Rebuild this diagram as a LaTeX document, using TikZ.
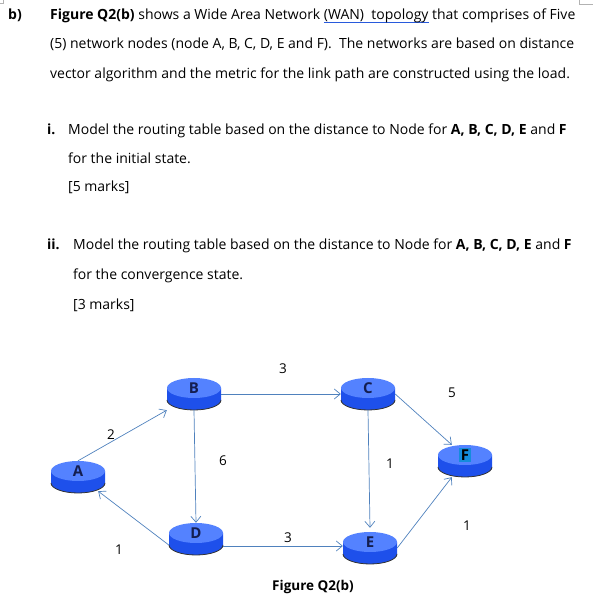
\documentclass[tikz,border=0pt]{standalone}
\usepackage{fontspec}
\setmainfont{Open Sans}
\usetikzlibrary{arrows.meta,calc}
\definecolor{edgec}{RGB}{79,129,189}
\definecolor{topc}{RGB}{84,130,255}
\definecolor{sidec}{RGB}{30,80,235}
\definecolor{lblc}{RGB}{20,30,80}
\definecolor{fbox}{RGB}{20,140,220}
\definecolor{ulblue}{RGB}{40,90,220}
\newcommand\blueul[1]{{\setbox0\hbox{#1}\rlap{\textcolor{ulblue}{\rule[-3pt]{\wd0}{0.7pt}}}\box0}}
\newcommand\netnode[4]{%
  \node[minimum width=54pt,minimum height=32pt,inner sep=0] (#1) at (#2,#3) {};
  \fill[sidec] ($(#1)+(-27,6)$) -- ($(#1)+(-27,-6)$) arc[start angle=180,end angle=360,x radius=27,y radius=10] -- ($(#1)+(27,6)$) -- cycle;
  \draw[line width=0.8pt,black!80] ($(#1)+(-27,-6)$) arc[start angle=180,end angle=360,x radius=27,y radius=10];
  \fill[topc] ($(#1)+(0,6)$) ellipse[x radius=27,y radius=10];
  \node[font=\bfseries\fontsize{15}{15}\selectfont,text=lblc] at ($(#1)+(0,6)$) {#4};
}
\begin{document}
\begin{tikzpicture}[x=1pt,y=1pt,
  txt/.style={anchor=base west,inner sep=0,font=\fontsize{14}{16}\selectfont},
  wt/.style={inner sep=0,font=\fontsize{13.5}{15}\selectfont},
  link/.style={draw=edgec,line width=0.7pt,-{Straight Barb[length=6pt,width=10pt]}}]
\useasboundingbox (0,0) rectangle (593,600);
% corner marks
\draw[gray!60,line width=0.6pt] (0,597) -- (3,597) -- (3,600);
\draw[gray!60,line width=0.6pt] (579,600) -- (579,596) -- (593,596);
% text
\node[txt] (tb) at (8,580.5) {\bfseries b)};
\node[txt] (t1) at (50,580.5) {\textbf{Figure Q2(b)} shows a Wide Area Network \blueul{(WAN)\ \ topology} that comprises of Five};
\node[txt] (t2) at (50,551) {(5) network nodes (node A, B, C, D, E and F).\ \ The networks are based on distance};
\node[txt] (t3) at (50,521.5) {vector algorithm and the metric for the link path are constructed using the load.};
\node[txt] (ti) at (47,465.5) {\bfseries i.};
\node[txt] (ti1) at (68,465.5) {Model the routing table based on the distance to Node for \textbf{A, B, C, D, E} and \textbf{F}};
\node[txt] (ti2) at (68,436.5) {for the initial state.};
\node[txt] (ti3) at (68,408) {[5 marks]};
\node[txt] (tii) at (47,350) {\bfseries ii.};
\node[txt] (tii1) at (73,350) {Model the routing table based on the distance to Node for \textbf{A, B, C, D, E} and \textbf{F}};
\node[txt] (tii2) at (73,320) {for the convergence state.};
\node[txt] (tii3) at (73,290) {[3 marks]};
% nodes
\netnode{A}{78}{123}{A}
\netnode{B}{194}{206}{B}
\netnode{C}{368}{206}{C}
\netnode{D}{196}{61}{D}
\netnode{E}{370}{52}{E}
\netnode{F}{465}{139}{}
\node[fill=fbox,minimum width=12pt,minimum height=14pt,inner sep=0,font=\bfseries\fontsize{15}{15}\selectfont,text=black] (fl) at (465,145) {F};
% links
\draw[link] (A.north) -- (B.south west);
\draw[link] (B.south) -- (D.north);
\draw[link] ([yshift=-6pt]D.west) -- ([xshift=-7pt,yshift=2pt]A.south east);
\draw[link] (B.east) -- (C.west);
\draw[link] ([yshift=-7pt]D.east) -- ([yshift=-7pt]D.east -| E.west);
\draw[link] (C.south) -- ([yshift=4pt]E.north);
\draw[link] (C.east) -- ([xshift=14pt]F.north west);
\draw[link] (E.east) -- ([xshift=14pt]F.south west);
% weights
\node[wt] (w1) at (111,165) {2};
\node[wt] (w2) at (223,139) {6};
\node[wt] (w3) at (119,50) {1};
\node[wt] (w4) at (283,231) {3};
\node[wt] (w5) at (288,62) {3};
\node[wt] (w6) at (452,207) {5};
\node[wt] (w7) at (390,136) {1};
\node[wt] (w8) at (467,74) {1};
\node[inner sep=0,font=\bfseries\fontsize{13.5}{15}\selectfont] (cap) at (313,13) {Figure Q2(b)};
\end{tikzpicture}
\end{document}
